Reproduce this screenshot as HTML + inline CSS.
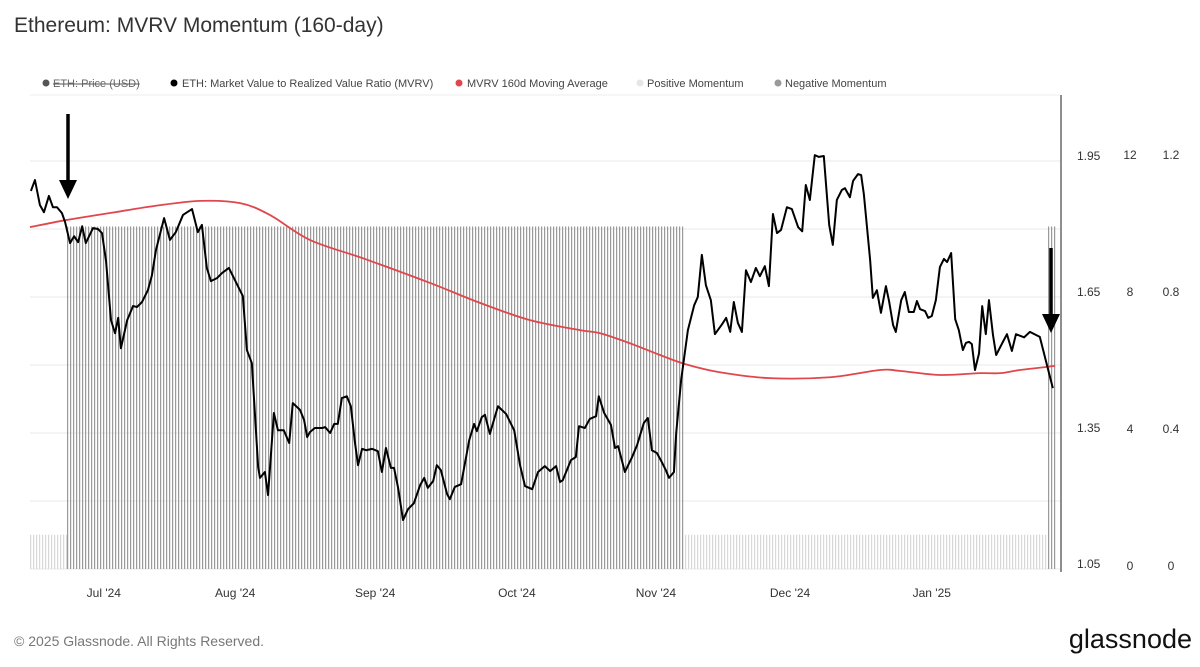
<!DOCTYPE html>
<html><head><meta charset="utf-8"><style>
body{margin:0;background:#fff;width:1200px;height:662px;overflow:hidden;font-family:"Liberation Sans",sans-serif;}
</style></head><body>
<svg id="chart" width="1200" height="662" viewBox="0 0 1200 662" xmlns="http://www.w3.org/2000/svg">
<text x="14" y="32" font-size="21" fill="#333">Ethereum: MVRV Momentum (160-day)</text>
<g id="legend" font-size="11" fill="#444">
 <g><circle cx="46" cy="83" r="3.5" fill="#555"/><text x="53" y="87" fill="#666" text-decoration="line-through">ETH: Price (USD)</text></g>
 <g><circle cx="174" cy="83" r="3.5" fill="#000"/><text x="182" y="87">ETH: Market Value to Realized Value Ratio (MVRV)</text></g>
 <g><circle cx="459" cy="83" r="3.5" fill="#e0474c"/><text x="467" y="87">MVRV 160d Moving Average</text></g>
 <g><circle cx="640" cy="83" r="3.5" fill="#e6e6e6"/><text x="647" y="87">Positive Momentum</text></g>
 <g><circle cx="778" cy="83" r="3.5" fill="#999"/><text x="785" y="87">Negative Momentum</text></g>
</g>
<line x1="30" y1="95" x2="1060" y2="95" stroke="#eee"/>
<g id="grid"></g>
<g id="bars"></g>
<g id="lines"></g>
<line x1="1061" y1="95" x2="1061" y2="572" stroke="#444" stroke-width="1.2"/>
<g id="axes" font-size="12" fill="#333"></g>
<g><line x1="68" y1="114" x2="68" y2="182" stroke="#000" stroke-width="3.5"/><polygon points="59,180 77,180 68,199" fill="#000"/></g>
<g><line x1="1051" y1="248" x2="1051" y2="316" stroke="#000" stroke-width="3.5"/><polygon points="1042,314 1060,314 1051,333" fill="#000"/></g>
<text x="14" y="646" font-size="14" fill="#777">© 2025 Glassnode. All Rights Reserved.</text>
<text x="1192" y="648" font-size="27" fill="#111" text-anchor="end">glassnode</text>
</svg>
<script>
const mvrvDays=[0.2,1.1,2.2,3.1,4.2,5.1,6.0,7.1,7.8,8.9,9.8,10.7,11.6,12.4,14.0,15.1,16.0,16.9,18.0,18.9,19.6,20.2,21.6,22.9,23.8,24.9,26.2,27.1,28.0,29.8,31.1,32.4,34.0,36.0,37.3,38.2,39.3,40.2,41.6,42.7,44.2,47.3,48.2,49.3,50.7,51.1,52.2,52.9,54.2,55.1,56.4,57.6,58.4,60.0,60.9,61.6,62.2,63.3,64.9,65.6,66.7,67.6,68.4,69.3,70.4,71.3,72.2,72.9,73.8,74.7,76.0,77.3,78.2,79.1,80.2,80.9,81.8,82.9,84.0,85.3,86.7,87.6,88.4,89.6,90.4,91.3,92.7,93.3,94.4,95.8,97.6,98.7,99.3,100.4,101.1,102.2,103.1,104.0,105.8,107.6,108.9,110.0,111.6,112.9,114.4,115.6,116.9,117.8,118.4,120.2,121.3,122.0,123.3,124.4,125.8,126.4,127.6,129.1,130.0,130.7,132.2,133.8,134.9,136.4,137.3,138.2,139.3,140.4,141.3,142.0,143.1,143.6,144.7,145.6,146.2,147.6,148.4,149.3,150.2,151.3,152.2,153.8,154.7,155.6,156.4,157.3,158.2,159.1,160.2,161.3,162.2,163.3,164.2,165.1,166.0,166.9,168.2,169.3,170.7,171.6,172.4,173.3,174.4,175.3,176.4,177.6,178.4,179.3,180.4,181.1,182.2,182.9,184.0,184.7,185.3,186.7,187.3,188.2,189.1,190.2,190.9,191.8,192.4,193.6,194.4,195.3,196.4,197.1,197.8,198.9,199.6,200.4,201.3,202.2,203.1,203.8,204.7,205.6,206.4,207.3,208.0,208.7,209.3,210.0,210.9,211.6,212.4,213.1,214.0,214.7,216.2,217.1,218.2,219.1,220.9,222.2,224.4,227.3];
const mvrvValues=[1.884,1.908,1.853,1.837,1.873,1.848,1.848,1.835,1.815,1.769,1.784,1.771,1.806,1.769,1.802,1.800,1.791,1.729,1.599,1.570,1.604,1.537,1.599,1.630,1.628,1.639,1.665,1.698,1.754,1.824,1.776,1.793,1.831,1.844,1.793,1.809,1.714,1.685,1.692,1.703,1.714,1.652,1.533,1.504,1.275,1.251,1.264,1.213,1.394,1.356,1.356,1.328,1.416,1.401,1.379,1.341,1.352,1.361,1.361,1.363,1.350,1.370,1.370,1.427,1.431,1.409,1.330,1.279,1.315,1.312,1.315,1.310,1.264,1.317,1.273,1.273,1.229,1.158,1.182,1.195,1.235,1.251,1.229,1.244,1.279,1.268,1.215,1.204,1.231,1.237,1.334,1.370,1.354,1.385,1.390,1.348,1.379,1.409,1.392,1.356,1.279,1.233,1.226,1.264,1.277,1.266,1.277,1.242,1.246,1.290,1.297,1.365,1.361,1.381,1.387,1.431,1.394,1.368,1.317,1.321,1.264,1.297,1.323,1.372,1.383,1.312,1.306,1.286,1.268,1.251,1.264,1.350,1.467,1.533,1.577,1.632,1.650,1.743,1.676,1.643,1.568,1.590,1.604,1.573,1.639,1.593,1.573,1.709,1.683,1.714,1.696,1.718,1.674,1.833,1.791,1.798,1.848,1.844,1.804,1.795,1.897,1.864,1.963,1.959,1.961,1.809,1.765,1.864,1.886,1.890,1.870,1.906,1.921,1.919,1.877,1.731,1.648,1.665,1.615,1.674,1.641,1.588,1.573,1.643,1.661,1.617,1.617,1.641,1.623,1.619,1.604,1.608,1.643,1.716,1.734,1.727,1.747,1.601,1.577,1.533,1.549,1.551,1.546,1.489,1.526,1.630,1.568,1.643,1.566,1.522,1.551,1.568,1.531,1.568,1.561,1.573,1.562,1.449];
const maDays=[0,8.2,18.9,27.8,37.8,46.7,53.3,62.2,74.4,88.9,100,111.1,122.2,126.7,133.3,140,145.6,153.3,164.4,177.8,188.9,193.3,202.2,211.1,215.6,220,227.8];
const maValues=[1.804,1.820,1.837,1.851,1.862,1.857,1.831,1.776,1.734,1.681,1.637,1.599,1.577,1.570,1.548,1.522,1.502,1.484,1.471,1.473,1.489,1.487,1.478,1.482,1.482,1.489,1.498];
const momentumStart=[0,8.2,145.6,226.2];
const momentumEnd=[8.2,145.6,226.2,228];
const momentumState=["positive","negative","positive","negative"];
const momentumValue=[1,10,1,10];
const yTicks=[1.05,1.35,1.65,1.95];
const yTickLabels=["1.05","1.35","1.65","1.95"];
const y2Ticks=[0,4,8,12];
const y3Labels=["0","0.4","0.8","1.2"];
const monthLabels=["Jul '24","Aug '24","Sep '24","Oct '24","Nov '24","Dec '24","Jan '25"];
const monthDays=[16.4,45.6,76.7,108.2,139.1,168.9,200.4];

const NS="http://www.w3.org/2000/svg";
const X=d=>30+d*4.5;
const Y=v=>569-(v-1.05)/0.15*68;
const Y2=v=>569-v/4*137;
function mk(tag,attrs,parent){const e=document.createElementNS(NS,tag);for(const k in attrs)e.setAttribute(k,attrs[k]);document.getElementById(parent).appendChild(e);return e;}
function smooth(pts){let d='M'+pts[0][0]+','+pts[0][1];for(let i=0;i<pts.length-1;i++){const p0=pts[i-1]||pts[i],p1=pts[i],p2=pts[i+1],p3=pts[i+2]||p2;d+='C'+(p1[0]+(p2[0]-p0[0])/6)+','+(p1[1]+(p2[1]-p0[1])/6)+' '+(p2[0]-(p3[0]-p1[0])/6)+','+(p2[1]-(p3[1]-p1[1])/6)+' '+p2[0]+','+p2[1];}return d;}

for(let v=1.05;v<=2.06;v+=0.15){
  const g=mk('line',{x1:30,x2:1060,y1:Y(v),y2:Y(v),stroke:'#e8e8e8'},'grid');
  
  
}
for(let i=0;i<momentumStart.length;i++){
  const neg=momentumState[i]==="negative";
  for(let t=momentumStart[i];t<momentumEnd[i]-0.1;t+=0.667){
    const top=Y2(momentumValue[i]);
    const b=mk('rect',{x:Math.round(X(t)),y:top,width:1.2,height:569-top,fill:neg?'#9a9a9a':'#d8d8d8'},'bars');
    
    
  }
}
const ma=mk('path',{d:smooth(maDays.map((d,i)=>[X(d),Y(maValues[i])])),fill:'none',stroke:'#e0474c','stroke-width':1.8},'lines');


const ml=mk('path',{d:mvrvDays.map((d,i)=>(i?'L':'M')+X(d)+','+Y(mvrvValues[i])).join(''),fill:'none',stroke:'#000','stroke-width':2,'stroke-linejoin':'round'},'lines');



yTicks.forEach((v,i)=>{
  const t=mk('text',{x:1077,y:Y(v)-1,'font-size':12},'axes');t.textContent=yTickLabels[i];
  
  
});
y2Ticks.forEach((v,i)=>{
  const t=mk('text',{x:1130,y:Y2(v)+1,'font-size':12,'text-anchor':'middle'},'axes');t.textContent=String(v);
  
  
  const u=mk('text',{x:1171,y:Y2(v)+1,'font-size':12,'text-anchor':'middle'},'axes');u.textContent=y3Labels[i];
  
  
});
monthLabels.forEach((m,i)=>{
  const t=mk('text',{x:X(monthDays[i]),y:597,'font-size':12,'text-anchor':'middle'},'axes');t.textContent=m;
  
  
});
</script>
</body></html>
